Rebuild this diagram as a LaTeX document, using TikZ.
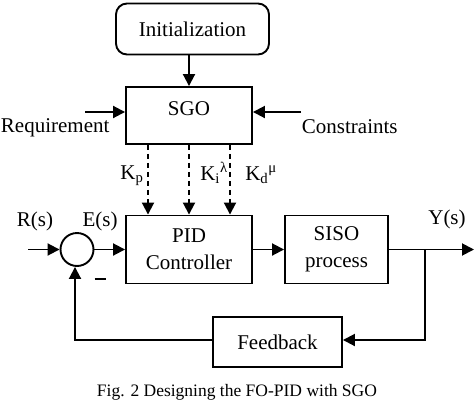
\documentclass[tikz,border=0pt]{standalone}
\usepackage{fontspec}
\setmainfont{Liberation Serif}
\usetikzlibrary{arrows.meta}
\begin{document}
\begin{tikzpicture}[x=1pt,y=-1pt,
  line width=1.9pt,
  >={Triangle[length=12pt,width=12pt]},
  blk/.style={draw,rectangle,inner sep=0pt,font=\fontsize{21}{27}\selectfont,align=center},
  txt/.style={inner sep=0pt,font=\fontsize{21}{25}\selectfont},
  captxt/.style={inner sep=0pt,font=\fontsize{17.5}{20}\selectfont},
  dsh/.style={dash pattern=on 5pt off 4pt}]
\useasboundingbox (0,0) rectangle (474,402);
\node[blk,rounded corners=11pt,minimum width=153pt,minimum height=51pt] (init) at (192.5,29) {Initialization};
\node[blk,minimum width=126pt,minimum height=57pt] (sgo) at (189,115.5) {};
\node[txt] (sgot) at (189,109) {SGO};
\node[blk,minimum width=126pt,minimum height=68pt] (pid) at (189,249.5) {PID\\Controller};
\node[blk,minimum width=103pt,minimum height=68pt] (siso) at (336.5,249.5) {SISO\\process};
\node[blk,minimum width=129pt,minimum height=50pt] (fb) at (277.5,342) {Feedback};
\node[draw,circle,inner sep=0pt,minimum size=33pt] (sum) at (77,249.5) {};
\node[txt,anchor=west] (req) at (0,128) {Requirement};
\node[txt,anchor=west] (con) at (301,127) {Constraints};
\node[txt] (kp) at (132,176) {K\textsubscript{p}};
\node[txt] (ki) at (214,173) {K\textsubscript{i}\textsuperscript{λ}};
\node[txt] (kd) at (261,175) {K\textsubscript{d}\textsuperscript{μ}};
\node[txt] (rs) at (35,221) {R(s)};
\node[txt] (es) at (100,221) {E(s)};
\node[txt] (ys) at (447,219) {Y(s)};
\node[inner sep=0pt] (minus) at (100,279) {\rule{11pt}{1.9pt}};
\node[captxt] (caption) at (237,392) {Fig. 2 Designing the FO-PID with SGO};
\coordinate (rin) at (28,249.5);
\coordinate (reqin) at (85,112);
\coordinate (conin) at (301,112);
\coordinate (yout) at (474,249.5);
\coordinate (br) at (425,249.5);
\coordinate (brd) at (425,340);
\coordinate (fbl) at (75,340);
\draw[->] (init.south -| sgo) -- (sgo);
\draw[->] (reqin) -- (reqin -| sgo.west);
\draw[->] (conin) -- (conin -| sgo.east);
\draw[->,dsh] ([xshift=-41pt]sgo.south) -- ([xshift=-41pt]pid.north);
\draw[->,dsh] (sgo.south) -- (pid.north);
\draw[->,dsh] ([xshift=41pt]sgo.south) -- ([xshift=41pt]pid.north);
\draw[->] (rin) -- (sum.west);
\draw[->] (sum.east) -- (sum.east -| pid.west);
\draw[->] (pid.east |- sum) -- (siso.west |- sum);
\draw[->] (siso.east |- sum) -- (yout);
\draw[->] (br) -- (brd) -- (fb.east |- brd);
\draw[->] (fb.west |- brd) -- (fbl) -- (sum.south -| fbl);
\end{tikzpicture}
\end{document}
